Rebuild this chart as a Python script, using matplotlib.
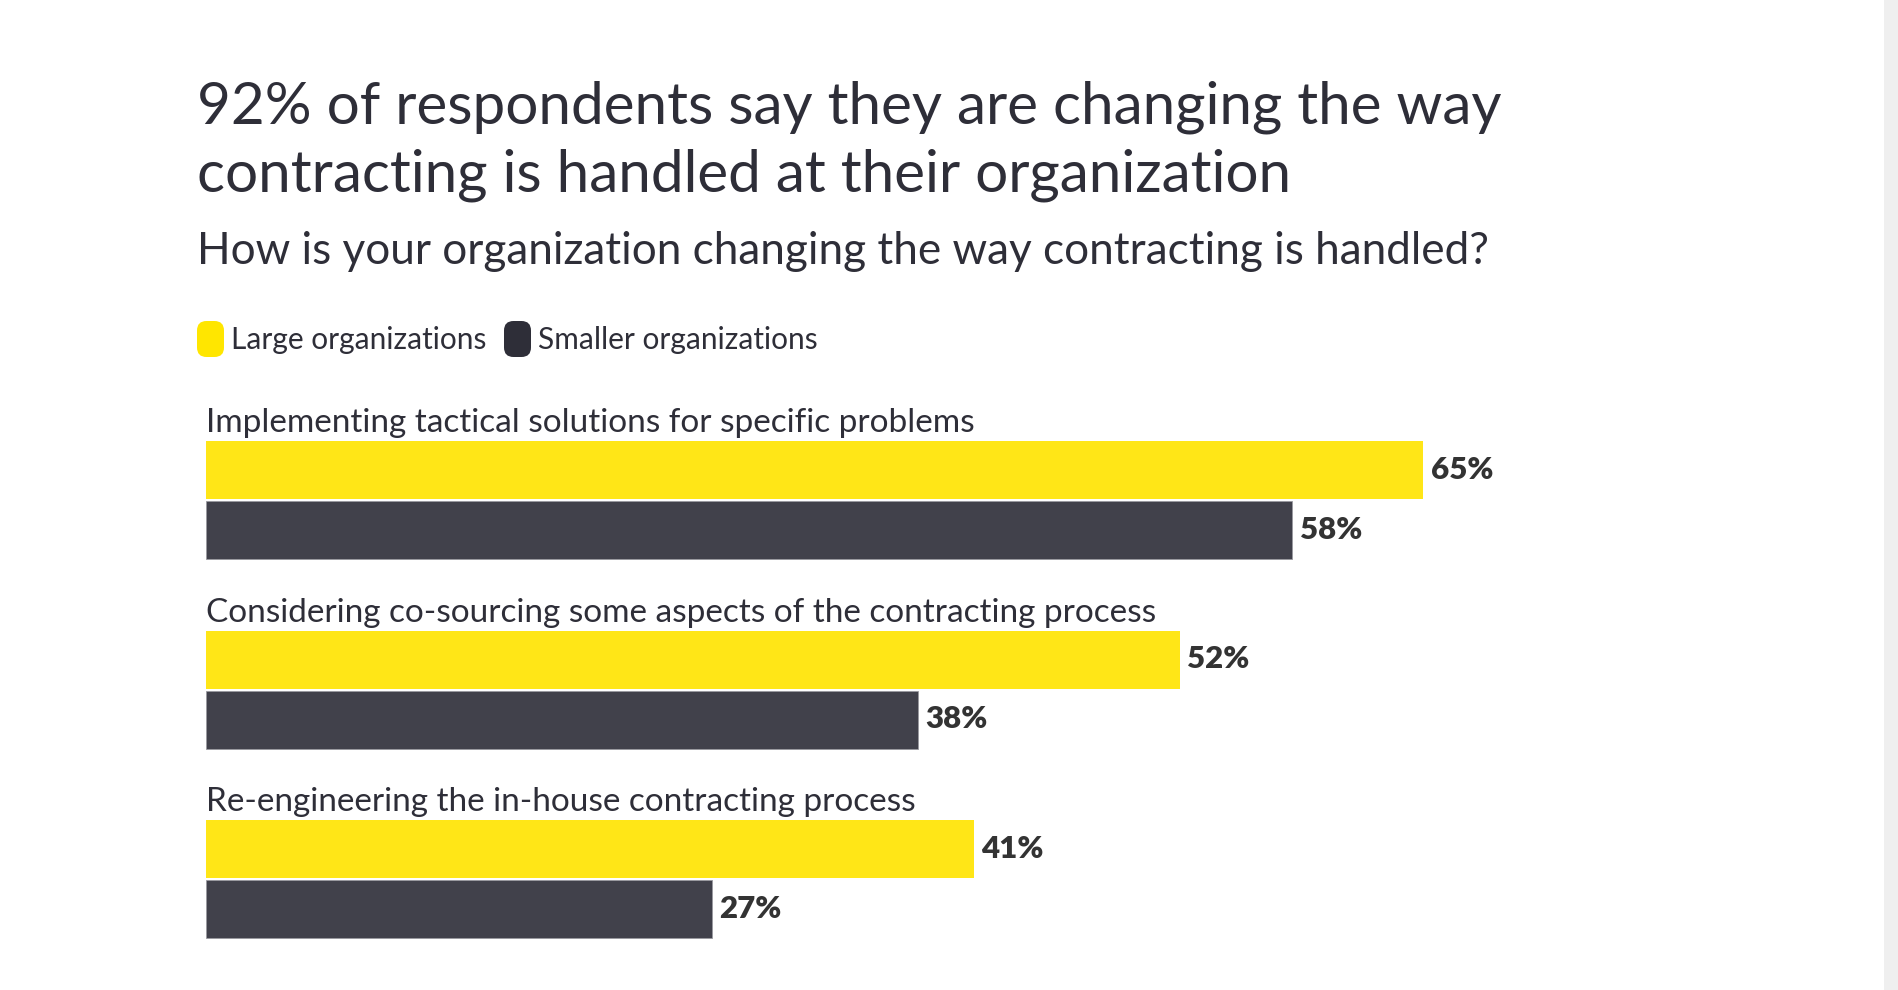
import matplotlib.pyplot as plt
from matplotlib.patches import FancyBboxPatch, Rectangle

# Data
categories = ['Implementing tactical solutions for specific problems',
              'Considering co-sourcing some aspects of the contracting process',
              'Re-engineering the in-house contracting process']
large = [65, 52, 41]
smaller = [58, 38, 27]
series_names = ['Large organizations', 'Smaller organizations']

title_lines = ['92% of respondents say they are changing the way',
               'contracting is handled at their organization']
subtitle = 'How is your organization changing the way contracting is handled?'

YELLOW = '#FFE617'
DARK = '#41414B'
TEXT = '#2E2E38'
FONT = 'Lato'

W, H = 1899, 990
fig = plt.figure(figsize=(W / 100, H / 100), dpi=100)
fig.patch.set_facecolor('white')

# grey strip on the right edge
fig.patches.append(Rectangle((1884 / W, 0), 15 / W, 1, transform=fig.transFigure,
                             facecolor='#EFEFEF', edgecolor='none'))

def fy(px):
    return 1 - px / H

# titles
fig.text(197 / W, fy(124), title_lines[0], fontsize=42, color=TEXT, family=FONT, va='baseline')
fig.text(197 / W, fy(192), title_lines[1], fontsize=42, color=TEXT, family=FONT, va='baseline')
fig.text(197 / W, fy(264), subtitle, fontsize=31.8, color=TEXT, family=FONT, va='baseline')

# legend
legend_x = [197, 504]
for name, col, x in zip(series_names, ['#FFE600', '#2E2E38'], legend_x):
    fig.patches.append(FancyBboxPatch((x / W, fy(357)), 27 / W, 36 / H,
                                      boxstyle='round,pad=0,rounding_size=0.005',
                                      transform=fig.transFigure, facecolor=col,
                                      edgecolor='none', mutation_aspect=W / H))
    fig.text((x + 34) / W, fy(349), name, fontsize=21.5, color=TEXT, family=FONT, va='baseline')

# bars: axes in percent horizontally, pixels vertically
ax = fig.add_axes([206 / W, 0, 1498 / W, 1])
ax.set_xlim(0, 80)
ax.set_ylim(H, 0)
ax.axis('off')

group_top = 441
step = 189.5
bar_h = 58
for i, (cat, a, b) in enumerate(zip(categories, large, smaller)):
    top = group_top + i * step
    ya = top + bar_h / 2
    yb = top + bar_h + 2 + bar_h / 2
    ax.barh(ya, a, height=bar_h, color=YELLOW, edgecolor='none')
    ax.barh(yb, b, height=bar_h, color=DARK, edgecolor='#9A9AA0', linewidth=0.6)
    ax.text(0, top - 9, cat, fontsize=24, color=TEXT, family=FONT, va='baseline')
    ax.text(a + 0.4, ya, f'{a}%', fontsize=22.5, fontweight='heavy', color='#333333',
            family=FONT, va='center')
    ax.text(b + 0.4, yb, f'{b}%', fontsize=22.5, fontweight='heavy', color='#333333',
            family=FONT, va='center')

fig.savefig('out.png', dpi=100, facecolor='white')
